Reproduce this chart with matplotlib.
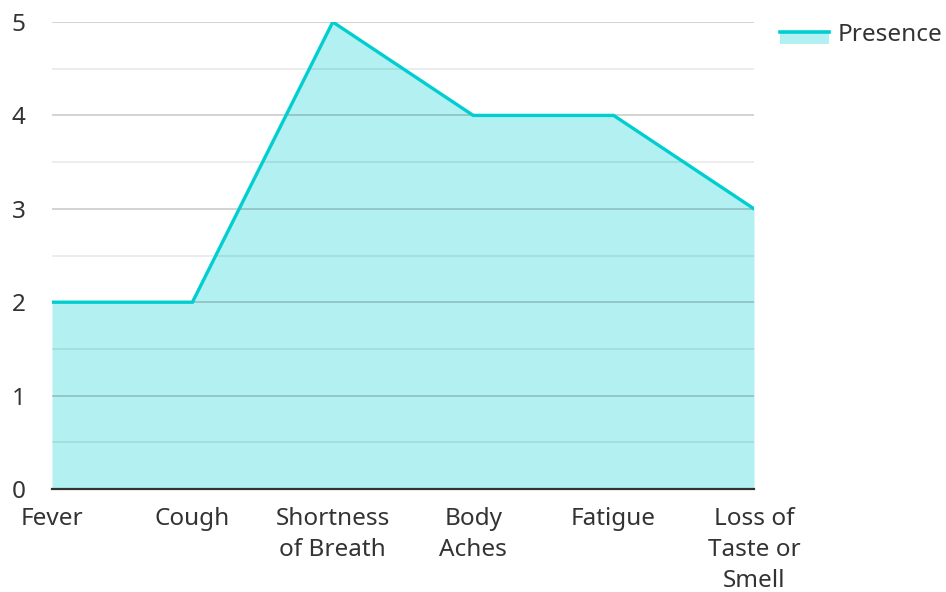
import matplotlib
matplotlib.use("Agg")
import matplotlib.pyplot as plt
from matplotlib.legend_handler import HandlerBase
from matplotlib.patches import Rectangle
from matplotlib.lines import Line2D

categories = ["Fever", "Cough", "Shortness\nof Breath", "Body\nAches", "Fatigue", "Loss of\nTaste or\nSmell"]
presence = [2, 2, 5, 4, 4, 3]
series_name = "Presence"

LINE = "#00CED1"
FILL = "#B2F0F1"
FS = 17.5

plt.rcParams['font.family'] = ['Noto Sans', 'DejaVu Sans']

fig = plt.figure(figsize=(9.46, 5.92), dpi=100)
ax = fig.add_axes([52/946, 1-489/592, (754-52)/946, (489-22)/592])

x = list(range(len(categories)))
ax.fill_between(x, presence, 0, color=FILL, linewidth=0, zorder=1)
ax.plot(x, presence, color=LINE, linewidth=2.4, zorder=3, solid_joinstyle='miter')

ax.set_xlim(0, len(categories)-1)
ax.set_ylim(0, 5)
ax.set_yticks(range(0, 6))
ax.set_yticks([0.5, 1.5, 2.5, 3.5, 4.5], minor=True)
ax.grid(axis='y', which='major', color='black', alpha=0.2, linewidth=1.2, zorder=2)
ax.grid(axis='y', which='minor', color='black', alpha=0.09, linewidth=1.2, zorder=2)
ax.set_axisbelow(False)
for s in ['top', 'right', 'left']:
    ax.spines[s].set_visible(False)
ax.spines['bottom'].set_color('#333333')
ax.spines['bottom'].set_linewidth(1.6)
ax.spines['bottom'].set_zorder(4)

ax.set_xticks(x)
ax.set_xticklabels(categories, fontsize=FS, color='#333333', linespacing=1.38, va='top')
ax.tick_params(axis='x', length=0, pad=13)
ax.tick_params(axis='y', which='both', length=0, pad=19, labelsize=FS, labelcolor='#333333')
for lbl in ax.get_yticklabels():
    lbl.set_horizontalalignment('right')


class AreaHandler(HandlerBase):
    def create_artists(self, legend, orig_handle, xdescent, ydescent, width, height, fontsize, trans):
        top = -ydescent + 0.55*height
        rect = Rectangle((-xdescent, top - 0.7*height), width, 0.7*height,
                         facecolor=FILL, edgecolor='none', transform=trans)
        line = Line2D([-xdescent, -xdescent + width], [top, top], color=LINE, linewidth=2.6, transform=trans)
        return [rect, line]


handle = Rectangle((0, 0), 1, 1)
leg = fig.legend([handle], [series_name], handler_map={Rectangle: AreaHandler()},
                 loc='upper left', bbox_to_anchor=(780/946, 1-23/592), frameon=False,
                 fontsize=FS, handlelength=2.0, handletextpad=0.37, borderaxespad=0, borderpad=0)
for t in leg.get_texts():
    t.set_color('#333333')

fig.savefig("out.png", dpi=100)
